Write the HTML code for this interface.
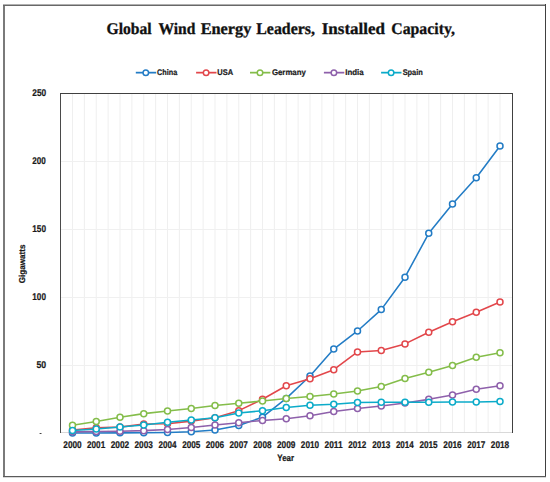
<!DOCTYPE html>
<html><head><meta charset="utf-8"><style>
html,body{margin:0;padding:0;background:#fff;}
body{width:550px;height:482px;overflow:hidden;position:relative;}
svg{position:absolute;left:0;top:0;}
.t{font-family:"Liberation Serif",serif;font-weight:bold;text-rendering:geometricPrecision;stroke:#111;stroke-width:0.3px;}
.s{font-family:"Liberation Sans",sans-serif;font-weight:bold;text-rendering:geometricPrecision;stroke:#1a1a1a;stroke-width:0.22px;}
</style></head><body>
<svg width="550" height="482" viewBox="0 0 550 482">
<rect x="0" y="0" width="550" height="482" fill="#fff"/>
<g shape-rendering="crispEdges">
<rect x="3" y="5" width="2" height="472" fill="#7a7a7a"/>
<rect x="3" y="4" width="543" height="1" fill="#b0b0b0"/>
<rect x="3" y="5" width="543" height="1" fill="#686868"/>
<rect x="545" y="4" width="1" height="473" fill="#404040"/>
<rect x="3" y="476" width="543" height="1" fill="#5a5a5a"/>
<rect x="3" y="477" width="543" height="1" fill="#d8d8d8"/>
</g>
<g fill="#efefef">
<rect x="72.00" y="94" width="1" height="338"/>
<rect x="83.88" y="94" width="1" height="338"/>
<rect x="95.75" y="94" width="1" height="338"/>
<rect x="107.62" y="94" width="1" height="338"/>
<rect x="119.50" y="94" width="1" height="338"/>
<rect x="131.38" y="94" width="1" height="338"/>
<rect x="143.25" y="94" width="1" height="338"/>
<rect x="155.12" y="94" width="1" height="338"/>
<rect x="167.00" y="94" width="1" height="338"/>
<rect x="178.88" y="94" width="1" height="338"/>
<rect x="190.75" y="94" width="1" height="338"/>
<rect x="202.62" y="94" width="1" height="338"/>
<rect x="214.50" y="94" width="1" height="338"/>
<rect x="226.38" y="94" width="1" height="338"/>
<rect x="238.25" y="94" width="1" height="338"/>
<rect x="250.12" y="94" width="1" height="338"/>
<rect x="262.00" y="94" width="1" height="338"/>
<rect x="273.88" y="94" width="1" height="338"/>
<rect x="285.75" y="94" width="1" height="338"/>
<rect x="297.62" y="94" width="1" height="338"/>
<rect x="309.50" y="94" width="1" height="338"/>
<rect x="321.38" y="94" width="1" height="338"/>
<rect x="333.25" y="94" width="1" height="338"/>
<rect x="345.12" y="94" width="1" height="338"/>
<rect x="357.00" y="94" width="1" height="338"/>
<rect x="368.88" y="94" width="1" height="338"/>
<rect x="380.75" y="94" width="1" height="338"/>
<rect x="392.62" y="94" width="1" height="338"/>
<rect x="404.50" y="94" width="1" height="338"/>
<rect x="416.38" y="94" width="1" height="338"/>
<rect x="428.25" y="94" width="1" height="338"/>
<rect x="440.12" y="94" width="1" height="338"/>
<rect x="452.00" y="94" width="1" height="338"/>
<rect x="463.88" y="94" width="1" height="338"/>
<rect x="475.75" y="94" width="1" height="338"/>
<rect x="487.62" y="94" width="1" height="338"/>
<rect x="499.50" y="94" width="1" height="338"/>
</g>
<g fill="#f0f0f0" shape-rendering="crispEdges">
<rect x="61" y="365" width="451" height="1"/>
<rect x="61" y="297" width="451" height="1"/>
<rect x="61" y="229" width="451" height="1"/>
<rect x="61" y="161" width="451" height="1"/>
</g>
<rect x="60" y="432" width="453" height="1" fill="#d9d9d9" shape-rendering="crispEdges"/>
<g shape-rendering="crispEdges">
<rect x="60" y="93" width="1" height="340" fill="#4a4a4a"/>
<rect x="60" y="93" width="453" height="1" fill="#404040"/>
<rect x="512" y="93" width="1" height="340" fill="#404040"/>
</g>
<polyline points="72.50,433.02 96.25,432.96 120.00,432.86 143.75,432.72 167.50,432.47 191.25,431.79 215.00,429.96 238.75,425.48 262.50,417.18 286.25,398.41 310.00,375.97 333.75,349.04 357.50,330.96 381.25,309.60 405.00,277.24 428.75,233.31 452.50,203.93 476.25,177.82 500.00,146.00" fill="none" stroke="#237cc5" stroke-width="1.55" stroke-linejoin="round"/>
<circle cx="72.50" cy="433.02" r="3.0" fill="#fff" stroke="#237cc5" stroke-width="1.5"/>
<circle cx="96.25" cy="432.96" r="3.0" fill="#fff" stroke="#237cc5" stroke-width="1.5"/>
<circle cx="120.00" cy="432.86" r="3.0" fill="#fff" stroke="#237cc5" stroke-width="1.5"/>
<circle cx="143.75" cy="432.72" r="3.0" fill="#fff" stroke="#237cc5" stroke-width="1.5"/>
<circle cx="167.50" cy="432.47" r="3.0" fill="#fff" stroke="#237cc5" stroke-width="1.5"/>
<circle cx="191.25" cy="431.79" r="3.0" fill="#fff" stroke="#237cc5" stroke-width="1.5"/>
<circle cx="215.00" cy="429.96" r="3.0" fill="#fff" stroke="#237cc5" stroke-width="1.5"/>
<circle cx="238.75" cy="425.48" r="3.0" fill="#fff" stroke="#237cc5" stroke-width="1.5"/>
<circle cx="262.50" cy="417.18" r="3.0" fill="#fff" stroke="#237cc5" stroke-width="1.5"/>
<circle cx="286.25" cy="398.41" r="3.0" fill="#fff" stroke="#237cc5" stroke-width="1.5"/>
<circle cx="310.00" cy="375.97" r="3.0" fill="#fff" stroke="#237cc5" stroke-width="1.5"/>
<circle cx="333.75" cy="349.04" r="3.0" fill="#fff" stroke="#237cc5" stroke-width="1.5"/>
<circle cx="357.50" cy="330.96" r="3.0" fill="#fff" stroke="#237cc5" stroke-width="1.5"/>
<circle cx="381.25" cy="309.60" r="3.0" fill="#fff" stroke="#237cc5" stroke-width="1.5"/>
<circle cx="405.00" cy="277.24" r="3.0" fill="#fff" stroke="#237cc5" stroke-width="1.5"/>
<circle cx="428.75" cy="233.31" r="3.0" fill="#fff" stroke="#237cc5" stroke-width="1.5"/>
<circle cx="452.50" cy="203.93" r="3.0" fill="#fff" stroke="#237cc5" stroke-width="1.5"/>
<circle cx="476.25" cy="177.82" r="3.0" fill="#fff" stroke="#237cc5" stroke-width="1.5"/>
<circle cx="500.00" cy="146.00" r="3.0" fill="#fff" stroke="#237cc5" stroke-width="1.5"/>
<polyline points="72.50,430.10 96.25,427.79 120.00,427.11 143.75,423.98 167.50,423.71 191.25,421.12 215.00,417.72 238.75,410.65 262.50,399.23 286.25,385.76 310.00,378.83 333.75,369.72 357.50,351.90 381.25,350.40 405.00,343.88 428.75,332.18 452.50,321.71 476.25,312.32 500.00,301.99" fill="none" stroke="#e2474b" stroke-width="1.55" stroke-linejoin="round"/>
<circle cx="72.50" cy="430.10" r="3.0" fill="#fff" stroke="#e2474b" stroke-width="1.5"/>
<circle cx="96.25" cy="427.79" r="3.0" fill="#fff" stroke="#e2474b" stroke-width="1.5"/>
<circle cx="120.00" cy="427.11" r="3.0" fill="#fff" stroke="#e2474b" stroke-width="1.5"/>
<circle cx="143.75" cy="423.98" r="3.0" fill="#fff" stroke="#e2474b" stroke-width="1.5"/>
<circle cx="167.50" cy="423.71" r="3.0" fill="#fff" stroke="#e2474b" stroke-width="1.5"/>
<circle cx="191.25" cy="421.12" r="3.0" fill="#fff" stroke="#e2474b" stroke-width="1.5"/>
<circle cx="215.00" cy="417.72" r="3.0" fill="#fff" stroke="#e2474b" stroke-width="1.5"/>
<circle cx="238.75" cy="410.65" r="3.0" fill="#fff" stroke="#e2474b" stroke-width="1.5"/>
<circle cx="262.50" cy="399.23" r="3.0" fill="#fff" stroke="#e2474b" stroke-width="1.5"/>
<circle cx="286.25" cy="385.76" r="3.0" fill="#fff" stroke="#e2474b" stroke-width="1.5"/>
<circle cx="310.00" cy="378.83" r="3.0" fill="#fff" stroke="#e2474b" stroke-width="1.5"/>
<circle cx="333.75" cy="369.72" r="3.0" fill="#fff" stroke="#e2474b" stroke-width="1.5"/>
<circle cx="357.50" cy="351.90" r="3.0" fill="#fff" stroke="#e2474b" stroke-width="1.5"/>
<circle cx="381.25" cy="350.40" r="3.0" fill="#fff" stroke="#e2474b" stroke-width="1.5"/>
<circle cx="405.00" cy="343.88" r="3.0" fill="#fff" stroke="#e2474b" stroke-width="1.5"/>
<circle cx="428.75" cy="332.18" r="3.0" fill="#fff" stroke="#e2474b" stroke-width="1.5"/>
<circle cx="452.50" cy="321.71" r="3.0" fill="#fff" stroke="#e2474b" stroke-width="1.5"/>
<circle cx="476.25" cy="312.32" r="3.0" fill="#fff" stroke="#e2474b" stroke-width="1.5"/>
<circle cx="500.00" cy="301.99" r="3.0" fill="#fff" stroke="#e2474b" stroke-width="1.5"/>
<polyline points="72.50,425.20 96.25,421.60 120.00,417.18 143.75,413.64 167.50,410.92 191.25,408.48 215.00,405.48 238.75,403.31 262.50,401.00 286.25,398.41 310.00,396.51 333.75,393.92 357.50,390.93 381.25,386.58 405.00,378.56 428.75,372.30 452.50,365.50 476.25,357.20 500.00,352.85" fill="none" stroke="#84bd4a" stroke-width="1.55" stroke-linejoin="round"/>
<circle cx="72.50" cy="425.20" r="3.0" fill="#fff" stroke="#84bd4a" stroke-width="1.5"/>
<circle cx="96.25" cy="421.60" r="3.0" fill="#fff" stroke="#84bd4a" stroke-width="1.5"/>
<circle cx="120.00" cy="417.18" r="3.0" fill="#fff" stroke="#84bd4a" stroke-width="1.5"/>
<circle cx="143.75" cy="413.64" r="3.0" fill="#fff" stroke="#84bd4a" stroke-width="1.5"/>
<circle cx="167.50" cy="410.92" r="3.0" fill="#fff" stroke="#84bd4a" stroke-width="1.5"/>
<circle cx="191.25" cy="408.48" r="3.0" fill="#fff" stroke="#84bd4a" stroke-width="1.5"/>
<circle cx="215.00" cy="405.48" r="3.0" fill="#fff" stroke="#84bd4a" stroke-width="1.5"/>
<circle cx="238.75" cy="403.31" r="3.0" fill="#fff" stroke="#84bd4a" stroke-width="1.5"/>
<circle cx="262.50" cy="401.00" r="3.0" fill="#fff" stroke="#84bd4a" stroke-width="1.5"/>
<circle cx="286.25" cy="398.41" r="3.0" fill="#fff" stroke="#84bd4a" stroke-width="1.5"/>
<circle cx="310.00" cy="396.51" r="3.0" fill="#fff" stroke="#84bd4a" stroke-width="1.5"/>
<circle cx="333.75" cy="393.92" r="3.0" fill="#fff" stroke="#84bd4a" stroke-width="1.5"/>
<circle cx="357.50" cy="390.93" r="3.0" fill="#fff" stroke="#84bd4a" stroke-width="1.5"/>
<circle cx="381.25" cy="386.58" r="3.0" fill="#fff" stroke="#84bd4a" stroke-width="1.5"/>
<circle cx="405.00" cy="378.56" r="3.0" fill="#fff" stroke="#84bd4a" stroke-width="1.5"/>
<circle cx="428.75" cy="372.30" r="3.0" fill="#fff" stroke="#84bd4a" stroke-width="1.5"/>
<circle cx="452.50" cy="365.50" r="3.0" fill="#fff" stroke="#84bd4a" stroke-width="1.5"/>
<circle cx="476.25" cy="357.20" r="3.0" fill="#fff" stroke="#84bd4a" stroke-width="1.5"/>
<circle cx="500.00" cy="352.85" r="3.0" fill="#fff" stroke="#84bd4a" stroke-width="1.5"/>
<polyline points="72.50,431.87 96.25,431.46 120.00,431.19 143.75,430.64 167.50,429.42 191.25,427.52 215.00,424.93 238.75,422.76 262.50,420.44 286.25,418.68 310.00,415.68 333.75,411.60 357.50,408.48 381.25,406.03 405.00,402.90 428.75,399.36 452.50,395.01 476.25,389.30 500.00,385.76" fill="none" stroke="#8e60ab" stroke-width="1.55" stroke-linejoin="round"/>
<circle cx="72.50" cy="431.87" r="3.0" fill="#fff" stroke="#8e60ab" stroke-width="1.5"/>
<circle cx="96.25" cy="431.46" r="3.0" fill="#fff" stroke="#8e60ab" stroke-width="1.5"/>
<circle cx="120.00" cy="431.19" r="3.0" fill="#fff" stroke="#8e60ab" stroke-width="1.5"/>
<circle cx="143.75" cy="430.64" r="3.0" fill="#fff" stroke="#8e60ab" stroke-width="1.5"/>
<circle cx="167.50" cy="429.42" r="3.0" fill="#fff" stroke="#8e60ab" stroke-width="1.5"/>
<circle cx="191.25" cy="427.52" r="3.0" fill="#fff" stroke="#8e60ab" stroke-width="1.5"/>
<circle cx="215.00" cy="424.93" r="3.0" fill="#fff" stroke="#8e60ab" stroke-width="1.5"/>
<circle cx="238.75" cy="422.76" r="3.0" fill="#fff" stroke="#8e60ab" stroke-width="1.5"/>
<circle cx="262.50" cy="420.44" r="3.0" fill="#fff" stroke="#8e60ab" stroke-width="1.5"/>
<circle cx="286.25" cy="418.68" r="3.0" fill="#fff" stroke="#8e60ab" stroke-width="1.5"/>
<circle cx="310.00" cy="415.68" r="3.0" fill="#fff" stroke="#8e60ab" stroke-width="1.5"/>
<circle cx="333.75" cy="411.60" r="3.0" fill="#fff" stroke="#8e60ab" stroke-width="1.5"/>
<circle cx="357.50" cy="408.48" r="3.0" fill="#fff" stroke="#8e60ab" stroke-width="1.5"/>
<circle cx="381.25" cy="406.03" r="3.0" fill="#fff" stroke="#8e60ab" stroke-width="1.5"/>
<circle cx="405.00" cy="402.90" r="3.0" fill="#fff" stroke="#8e60ab" stroke-width="1.5"/>
<circle cx="428.75" cy="399.36" r="3.0" fill="#fff" stroke="#8e60ab" stroke-width="1.5"/>
<circle cx="452.50" cy="395.01" r="3.0" fill="#fff" stroke="#8e60ab" stroke-width="1.5"/>
<circle cx="476.25" cy="389.30" r="3.0" fill="#fff" stroke="#8e60ab" stroke-width="1.5"/>
<circle cx="500.00" cy="385.76" r="3.0" fill="#fff" stroke="#8e60ab" stroke-width="1.5"/>
<polyline points="72.50,430.51 96.25,429.01 120.00,426.97 143.75,425.07 167.50,422.21 191.25,419.90 215.00,417.72 238.75,412.96 262.50,410.79 286.25,407.52 310.00,405.35 333.75,404.26 357.50,402.49 381.25,402.22 405.00,402.22 428.75,402.22 452.50,402.08 476.25,402.08 500.00,401.54" fill="none" stroke="#0babc9" stroke-width="1.55" stroke-linejoin="round"/>
<circle cx="72.50" cy="430.51" r="3.0" fill="#fff" stroke="#0babc9" stroke-width="1.5"/>
<circle cx="96.25" cy="429.01" r="3.0" fill="#fff" stroke="#0babc9" stroke-width="1.5"/>
<circle cx="120.00" cy="426.97" r="3.0" fill="#fff" stroke="#0babc9" stroke-width="1.5"/>
<circle cx="143.75" cy="425.07" r="3.0" fill="#fff" stroke="#0babc9" stroke-width="1.5"/>
<circle cx="167.50" cy="422.21" r="3.0" fill="#fff" stroke="#0babc9" stroke-width="1.5"/>
<circle cx="191.25" cy="419.90" r="3.0" fill="#fff" stroke="#0babc9" stroke-width="1.5"/>
<circle cx="215.00" cy="417.72" r="3.0" fill="#fff" stroke="#0babc9" stroke-width="1.5"/>
<circle cx="238.75" cy="412.96" r="3.0" fill="#fff" stroke="#0babc9" stroke-width="1.5"/>
<circle cx="262.50" cy="410.79" r="3.0" fill="#fff" stroke="#0babc9" stroke-width="1.5"/>
<circle cx="286.25" cy="407.52" r="3.0" fill="#fff" stroke="#0babc9" stroke-width="1.5"/>
<circle cx="310.00" cy="405.35" r="3.0" fill="#fff" stroke="#0babc9" stroke-width="1.5"/>
<circle cx="333.75" cy="404.26" r="3.0" fill="#fff" stroke="#0babc9" stroke-width="1.5"/>
<circle cx="357.50" cy="402.49" r="3.0" fill="#fff" stroke="#0babc9" stroke-width="1.5"/>
<circle cx="381.25" cy="402.22" r="3.0" fill="#fff" stroke="#0babc9" stroke-width="1.5"/>
<circle cx="405.00" cy="402.22" r="3.0" fill="#fff" stroke="#0babc9" stroke-width="1.5"/>
<circle cx="428.75" cy="402.22" r="3.0" fill="#fff" stroke="#0babc9" stroke-width="1.5"/>
<circle cx="452.50" cy="402.08" r="3.0" fill="#fff" stroke="#0babc9" stroke-width="1.5"/>
<circle cx="476.25" cy="402.08" r="3.0" fill="#fff" stroke="#0babc9" stroke-width="1.5"/>
<circle cx="500.00" cy="401.54" r="3.0" fill="#fff" stroke="#0babc9" stroke-width="1.5"/>
<text id="t_Global" class="t" x="106.46" y="33.90" font-size="16.3" fill="#111" textLength="45.26" lengthAdjust="spacingAndGlyphs">Global</text>
<text id="t_Wind" class="t" x="158.44" y="33.90" font-size="16.3" fill="#111" textLength="36.93" lengthAdjust="spacingAndGlyphs">Wind</text>
<text id="t_Energy" class="t" x="200.67" y="33.90" font-size="16.3" fill="#111" textLength="50.79" lengthAdjust="spacingAndGlyphs">Energy</text>
<text id="t_Leaders," class="t" x="256.21" y="33.90" font-size="16.3" fill="#111" textLength="58.79" lengthAdjust="spacingAndGlyphs">Leaders,</text>
<text id="t_Installed" class="t" x="321.70" y="33.90" font-size="16.3" fill="#111" textLength="63.36" lengthAdjust="spacingAndGlyphs">Installed</text>
<text id="t_Capacity," class="t" x="391.25" y="33.90" font-size="16.3" fill="#111" textLength="63.66" lengthAdjust="spacingAndGlyphs">Capacity,</text>
<text id="l_China" class="s" x="157.11" y="74.70" font-size="8.2" fill="#1a1a1a" textLength="20.11" lengthAdjust="spacingAndGlyphs">China</text>
<text id="l_USA" class="s" x="217.35" y="74.70" font-size="8.2" fill="#1a1a1a" textLength="15.78" lengthAdjust="spacingAndGlyphs">USA</text>
<text id="l_Germany" class="s" x="271.90" y="74.70" font-size="8.2" fill="#1a1a1a" textLength="33.95" lengthAdjust="spacingAndGlyphs">Germany</text>
<text id="l_India" class="s" x="345.28" y="74.70" font-size="8.2" fill="#1a1a1a" textLength="18.39" lengthAdjust="spacingAndGlyphs">India</text>
<text id="l_Spain" class="s" x="402.63" y="74.70" font-size="8.2" fill="#1a1a1a" textLength="20.22" lengthAdjust="spacingAndGlyphs">Spain</text>
<text id="y_250" class="s" x="32.28" y="96.00" font-size="9.7" fill="#1a1a1a" textLength="13.89" lengthAdjust="spacingAndGlyphs">250</text>
<text id="y_200" class="s" x="32.25" y="164.00" font-size="9.7" fill="#1a1a1a" textLength="13.54" lengthAdjust="spacingAndGlyphs">200</text>
<text id="y_150" class="s" x="32.27" y="232.00" font-size="9.7" fill="#1a1a1a" textLength="13.80" lengthAdjust="spacingAndGlyphs">150</text>
<text id="y_100" class="s" x="32.30" y="300.00" font-size="9.7" fill="#1a1a1a" textLength="13.65" lengthAdjust="spacingAndGlyphs">100</text>
<text id="y_50" class="s" x="36.53" y="368.00" font-size="9.7" fill="#1a1a1a" textLength="9.72" lengthAdjust="spacingAndGlyphs">50</text>
<text id="x_0" class="s" x="63.35" y="447.80" font-size="9.7" fill="#1a1a1a" textLength="18.38" lengthAdjust="spacingAndGlyphs">2000</text>
<text id="x_1" class="s" x="87.03" y="447.80" font-size="9.7" fill="#1a1a1a" textLength="18.17" lengthAdjust="spacingAndGlyphs">2001</text>
<text id="x_2" class="s" x="110.68" y="447.80" font-size="9.7" fill="#1a1a1a" textLength="18.60" lengthAdjust="spacingAndGlyphs">2002</text>
<text id="x_3" class="s" x="134.50" y="447.80" font-size="9.7" fill="#1a1a1a" textLength="18.33" lengthAdjust="spacingAndGlyphs">2003</text>
<text id="x_4" class="s" x="158.48" y="447.80" font-size="9.7" fill="#1a1a1a" textLength="17.97" lengthAdjust="spacingAndGlyphs">2004</text>
<text id="x_5" class="s" x="182.15" y="447.80" font-size="9.7" fill="#1a1a1a" textLength="18.22" lengthAdjust="spacingAndGlyphs">2005</text>
<text id="x_6" class="s" x="205.70" y="447.80" font-size="9.7" fill="#1a1a1a" textLength="18.42" lengthAdjust="spacingAndGlyphs">2006</text>
<text id="x_7" class="s" x="229.52" y="447.80" font-size="9.7" fill="#1a1a1a" textLength="18.24" lengthAdjust="spacingAndGlyphs">2007</text>
<text id="x_8" class="s" x="253.35" y="447.80" font-size="9.7" fill="#1a1a1a" textLength="18.11" lengthAdjust="spacingAndGlyphs">2008</text>
<text id="x_9" class="s" x="277.00" y="447.80" font-size="9.7" fill="#1a1a1a" textLength="18.47" lengthAdjust="spacingAndGlyphs">2009</text>
<text id="x_10" class="s" x="300.83" y="447.80" font-size="9.7" fill="#1a1a1a" textLength="18.22" lengthAdjust="spacingAndGlyphs">2010</text>
<text id="x_11" class="s" x="324.54" y="447.80" font-size="9.7" fill="#1a1a1a" textLength="18.15" lengthAdjust="spacingAndGlyphs">2011</text>
<text id="x_12" class="s" x="348.28" y="447.80" font-size="9.7" fill="#1a1a1a" textLength="18.13" lengthAdjust="spacingAndGlyphs">2012</text>
<text id="x_13" class="s" x="372.25" y="447.80" font-size="9.7" fill="#1a1a1a" textLength="18.13" lengthAdjust="spacingAndGlyphs">2013</text>
<text id="x_14" class="s" x="395.90" y="447.80" font-size="9.7" fill="#1a1a1a" textLength="17.85" lengthAdjust="spacingAndGlyphs">2014</text>
<text id="x_15" class="s" x="419.45" y="447.80" font-size="9.7" fill="#1a1a1a" textLength="18.24" lengthAdjust="spacingAndGlyphs">2015</text>
<text id="x_16" class="s" x="443.30" y="447.80" font-size="9.7" fill="#1a1a1a" textLength="18.42" lengthAdjust="spacingAndGlyphs">2016</text>
<text id="x_17" class="s" x="467.29" y="447.80" font-size="9.7" fill="#1a1a1a" textLength="18.10" lengthAdjust="spacingAndGlyphs">2017</text>
<text id="x_18" class="s" x="490.80" y="447.80" font-size="9.7" fill="#1a1a1a" textLength="18.40" lengthAdjust="spacingAndGlyphs">2018</text>
<text id="year" class="s" x="277.32" y="461.00" font-size="9.3" fill="#1a1a1a" textLength="16.75" lengthAdjust="spacingAndGlyphs">Year</text>
<rect x="39.6" y="433" width="1.9" height="1" fill="#444"/>
<text id="giga" class="s" transform="translate(25.25,283.30) rotate(-90)" x="0" y="0" font-size="8.6" fill="#1a1a1a" textLength="38.70" lengthAdjust="spacingAndGlyphs">Gigawatts</text>
<line x1="135.8" y1="72.65" x2="156.20000000000002" y2="72.65" stroke="#237cc5" stroke-width="1.75"/>
<circle cx="145.8" cy="72.65" r="2.75" fill="#fff" stroke="#237cc5" stroke-width="1.5"/>
<line x1="196.1" y1="72.65" x2="216.5" y2="72.65" stroke="#e2474b" stroke-width="1.75"/>
<circle cx="206.1" cy="72.65" r="2.75" fill="#fff" stroke="#e2474b" stroke-width="1.5"/>
<line x1="250.0" y1="72.65" x2="270.4" y2="72.65" stroke="#84bd4a" stroke-width="1.75"/>
<circle cx="260.0" cy="72.65" r="2.75" fill="#fff" stroke="#84bd4a" stroke-width="1.5"/>
<line x1="323.9" y1="72.65" x2="344.29999999999995" y2="72.65" stroke="#8e60ab" stroke-width="1.75"/>
<circle cx="333.9" cy="72.65" r="2.75" fill="#fff" stroke="#8e60ab" stroke-width="1.5"/>
<line x1="381.1" y1="72.65" x2="401.5" y2="72.65" stroke="#0babc9" stroke-width="1.75"/>
<circle cx="391.1" cy="72.65" r="2.75" fill="#fff" stroke="#0babc9" stroke-width="1.5"/>
</svg></body></html>
